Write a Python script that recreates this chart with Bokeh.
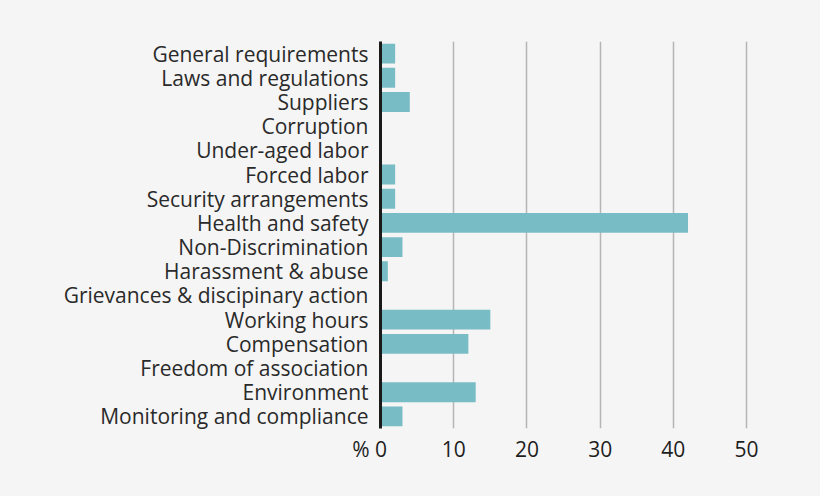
from bokeh.plotting import figure
from bokeh.embed import file_html
from bokeh.resources import INLINE
from bokeh.models import FixedTicker

categories = [
    "General requirements", "Laws and regulations", "Suppliers", "Corruption",
    "Under-aged labor", "Forced labor", "Security arrangements", "Health and safety",
    "Non-Discrimination", "Harassment & abuse", "Grievances & discipinary action",
    "Working hours", "Compensation", "Freedom of association", "Environment",
    "Monitoring and compliance",
]
values = [2, 2, 4, 0, 0, 2, 2, 42, 3, 1, 0, 15, 12, 0, 13, 3]
ticks = [0, 10, 20, 30, 40, 50]
unit_label = "%"

BG = "#f5f5f5"
FONT = "Open Sans"
NB = "\u00a0"

p = figure(
    width=812, height=488,
    y_range=list(reversed(categories)),
    x_range=(0, 59.0),
    output_backend="svg", toolbar_location=None,
    min_border_left=380, min_border_right=0, min_border_top=41, min_border_bottom=60,
)
p.hbar(y=categories, right=values, left=0, height=0.82, color="#78bcc6", line_color=None)

p.background_fill_color = BG
p.border_fill_color = BG
p.outline_line_color = None

p.xaxis.ticker = FixedTicker(ticks=ticks)
p.xaxis.major_label_overrides = {0: unit_label + NB + "0" + NB * 4}
p.xgrid.ticker = FixedTicker(ticks=ticks[1:])
p.xgrid.grid_line_color = "#b5b5b5"
p.xgrid.grid_line_width = 1.5
p.ygrid.grid_line_color = None

p.xaxis.axis_line_color = None
p.xaxis.major_tick_line_color = None
p.xaxis.minor_tick_line_color = None
p.xaxis.major_label_text_font = FONT
p.xaxis.major_label_text_font_size = "21px"
p.xaxis.major_label_text_color = "#1e1e1e"
p.xaxis.major_label_standoff = 0

p.yaxis.axis_line_color = "#1a1a1a"
p.yaxis.axis_line_width = 3
p.yaxis.major_tick_line_color = None
p.yaxis.minor_tick_line_color = None
p.yaxis.major_label_text_font = FONT
p.yaxis.major_label_text_font_size = "21px"
p.yaxis.major_label_text_color = "#2a2a2a"
p.yaxis.major_label_standoff = 6

html = file_html(p, INLINE)
html = html.replace("<head>", "<head><style>body{background:#f5f5f5;}</style>", 1)
open("out.html", "w").write(html)
